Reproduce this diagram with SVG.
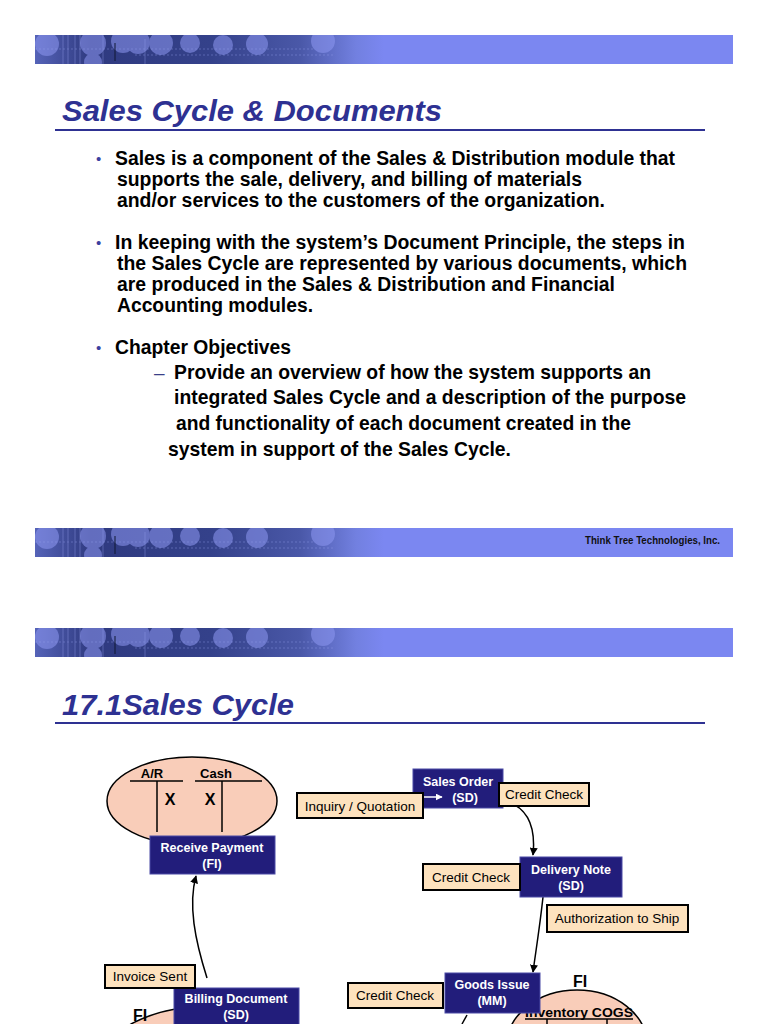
<svg xmlns="http://www.w3.org/2000/svg" width="768" height="1024" viewBox="0 0 768 1024">
<defs>
  <linearGradient id="bandGrad" x1="0" y1="0" x2="1" y2="0">
    <stop offset="0" stop-color="#5563B8"/>
    <stop offset="0.08" stop-color="#2F3A80"/>
    <stop offset="0.25" stop-color="#34418A"/>
    <stop offset="0.38" stop-color="#4A58A8"/>
    <stop offset="0.46" stop-color="#7280E0"/>
    <stop offset="0.5" stop-color="#7B87F1"/>
    <stop offset="1" stop-color="#7B87F1"/>
  </linearGradient>
  <clipPath id="bandClip">
    <rect x="0" y="0" width="698" height="29"/>
  </clipPath>
  <g id="band">
    <g clip-path="url(#bandClip)">
      <rect x="0" y="0" width="698" height="29" fill="url(#bandGrad)"/>
      <g fill="#8E98F2" opacity="0.55">
        <circle cx="12" cy="9" r="12"/>
        <circle cx="58" cy="8" r="13"/>
        <circle cx="88" cy="6" r="12"/>
        <circle cx="103" cy="7" r="12"/>
        <circle cx="126" cy="8" r="12"/>
        <circle cx="58" cy="27" r="9"/>
        <circle cx="155" cy="8" r="10"/>
        <circle cx="188" cy="10" r="10"/>
        <circle cx="222" cy="9" r="11"/>
        <circle cx="288" cy="6" r="12"/>
      </g>
      <g stroke="#9AA3F0" stroke-width="0.7" opacity="0.55">
        <line x1="28" y1="0" x2="28" y2="29"/>
        <line x1="33" y1="0" x2="33" y2="29"/>
        <line x1="40" y1="0" x2="40" y2="29"/>
        <line x1="45" y1="0" x2="45" y2="29"/>
        <line x1="68" y1="0" x2="68" y2="29"/>
        <line x1="110" y1="4" x2="110" y2="29"/>
        <line x1="0" y1="14" x2="280" y2="14" stroke-dasharray="2 2"/>
        <line x1="100" y1="20" x2="300" y2="20" stroke-dasharray="2 2"/>
      </g>
      <line x1="80" y1="8" x2="80" y2="26" stroke="#111833" stroke-width="1"/>
    </g>
  </g>
  <marker id="arrow" viewBox="0 0 10 10" refX="9" refY="5" markerWidth="8" markerHeight="8" markerUnits="userSpaceOnUse" orient="auto">
    <path d="M0,0 L10,5 L0,10 Z" fill="#000"/>
  </marker>
  <marker id="arrowW" viewBox="0 0 10 10" refX="9" refY="5" markerWidth="7" markerHeight="7" markerUnits="userSpaceOnUse" orient="auto">
    <path d="M0,0 L10,5 L0,10 Z" fill="#fff"/>
  </marker>
</defs>
<style>
  .title { font-family: "Liberation Sans", Arial, sans-serif; font-weight: bold; font-style: italic; font-size: 30px; fill: #2E3192; }
  .rule { stroke: #2E3192; stroke-width: 2; }
  .body { font-family: "Liberation Sans", Arial, sans-serif; font-weight: bold; font-size: 19.5px; fill: #000; }
  .sub { font-family: "Liberation Sans", Arial, sans-serif; font-weight: bold; font-size: 20.5px; fill: #000; }
  .bul { font-family: "Liberation Sans", Arial, sans-serif; font-size: 15px; fill: #3B40A0; }
  .dash { font-family: "Liberation Sans", Arial, sans-serif; font-size: 19px; fill: #3A3F88; }
  .foot { font-family: "Liberation Sans", Arial, sans-serif; font-weight: bold; font-size: 10px; fill: #111; }
  .doc rect { fill: #221D7B; stroke: #4B4BA6; stroke-width: 1; }
  .doc text { font-family: "Liberation Sans", Arial, sans-serif; font-weight: bold; font-size: 12.5px; fill: #fff; text-anchor: middle; }
  .lbl rect { fill: #FDE2BE; stroke: #000; stroke-width: 2; }
  .lbl text { font-family: "Liberation Sans", Arial, sans-serif; font-size: 13.5px; fill: #000; text-anchor: middle; }
  .acct ellipse { fill: #F9CDB9; stroke: #000; stroke-width: 1.5; }
  .acct line { stroke: #000; stroke-width: 1.5; }
  .acct text { font-family: "Liberation Sans", Arial, sans-serif; font-weight: bold; font-size: 13px; fill: #000; text-anchor: middle; }
  .acct text.x { font-size: 16px; }
  .acct text.fi { font-size: 16px; text-anchor: start; }
  .conn { fill: none; stroke: #000; stroke-width: 1.5; }
  .conn-w { fill: none; stroke: #fff; stroke-width: 1.5; }
</style>

<rect width="768" height="1024" fill="#fff"/>

<!-- Slide 1 -->
<use href="#band" x="35" y="35"/>
<text class="title" x="62" y="121" textLength="380" lengthAdjust="spacingAndGlyphs">Sales Cycle &amp; Documents</text>
<line class="rule" x1="55" y1="130" x2="705" y2="130"/>

<text class="bul" x="96" y="164">•</text>
<text class="body" x="115" y="165" textLength="560" lengthAdjust="spacingAndGlyphs">Sales is a component of the Sales &amp; Distribution module that</text>
<text class="body" x="117" y="186" textLength="465" lengthAdjust="spacingAndGlyphs">supports the sale, delivery, and billing of materials</text>
<text class="body" x="117" y="207" textLength="488" lengthAdjust="spacingAndGlyphs">and/or services to the customers of the organization.</text>

<text class="bul" x="96" y="248">•</text>
<text class="body" x="115" y="249" textLength="570" lengthAdjust="spacingAndGlyphs">In keeping with the system’s Document Principle, the steps in</text>
<text class="body" x="117" y="270" textLength="570" lengthAdjust="spacingAndGlyphs">the Sales Cycle are represented by various documents, which</text>
<text class="body" x="117" y="291" textLength="498" lengthAdjust="spacingAndGlyphs">are produced in the Sales &amp; Distribution and Financial</text>
<text class="body" x="117" y="312" textLength="196" lengthAdjust="spacingAndGlyphs">Accounting modules.</text>

<text class="bul" x="96" y="353">•</text>
<text class="body" x="115" y="354" textLength="176" lengthAdjust="spacingAndGlyphs">Chapter Objectives</text>
<text class="dash" x="154" y="379">–</text>
<text class="sub" x="174" y="379" textLength="477" lengthAdjust="spacingAndGlyphs">Provide an overview of how the system supports an</text>
<text class="sub" x="174" y="404" textLength="512" lengthAdjust="spacingAndGlyphs">integrated Sales Cycle and a description of the purpose</text>
<text class="sub" x="176" y="430" textLength="455" lengthAdjust="spacingAndGlyphs">and functionality of each document created in the</text>
<text class="sub" x="168" y="456" textLength="343" lengthAdjust="spacingAndGlyphs">system in support of the Sales Cycle.</text>

<use href="#band" x="35" y="528"/>
<text class="foot" x="720" y="544" text-anchor="end" textLength="135" lengthAdjust="spacingAndGlyphs">Think Tree Technologies, Inc.</text>

<!-- Slide 2 -->
<use href="#band" x="35" y="628"/>
<text class="title" x="62" y="715" textLength="232" lengthAdjust="spacingAndGlyphs">17.1Sales Cycle</text>
<line class="rule" x1="55" y1="723" x2="705" y2="723"/>

<!-- Account ellipses -->
<g id="acct-cash" class="acct">
  <ellipse cx="192" cy="801" rx="85" ry="44"/>
  <text x="152" y="778">A/R</text>
  <line x1="130" y1="781" x2="183" y2="781"/>
  <line x1="157" y1="781" x2="157" y2="832"/>
  <text class="x" x="170" y="805">X</text>
  <text x="216" y="778">Cash</text>
  <line x1="195" y1="781" x2="262" y2="781"/>
  <line x1="222" y1="781" x2="222" y2="832"/>
  <text class="x" x="210" y="805">X</text>
</g>

<g id="acct-billing" class="acct">
  <ellipse cx="212" cy="1062" rx="110" ry="56"/>
  <text class="fi" x="133" y="1021">FI</text>
</g>

<g id="acct-inventory" class="acct">
  <ellipse cx="577" cy="1045" rx="70" ry="55"/>
  <text class="fi" x="573" y="987">FI</text>
  <text x="579" y="1017" textLength="108" lengthAdjust="spacingAndGlyphs">Inventory  COGS</text>
  <line x1="525" y1="1019" x2="633" y2="1019"/>
  <line x1="547" y1="1019" x2="547" y2="1024"/>
  <line x1="607" y1="1019" x2="607" y2="1024"/>
</g>

<!-- Connectors -->
<g id="connectors">
  <path class="conn" d="M502,800 C528,806 536,826 533,855" marker-end="url(#arrow)"/>
  <path class="conn" d="M543,897 C540,925 536,950 533,972" marker-end="url(#arrow)"/>
  <path class="conn" d="M207,978 C195,940 188,905 196,876" marker-end="url(#arrow)"/>
  <path class="conn" d="M462,1024 L467,1015"/>
</g>

<!-- Document nodes -->
<g id="receive-payment" class="doc">
  <rect x="150" y="836" width="125" height="38"/>
  <text x="212" y="852">Receive Payment</text>
  <text x="212" y="868">(FI)</text>
</g>

<g id="sales-order" class="doc">
  <rect x="413" y="769" width="90" height="39"/>
  <text x="458" y="786">Sales Order</text>
  <text x="465" y="802">(SD)</text>
</g>
<path class="conn-w" d="M424,797 L442,797" marker-end="url(#arrowW)"/>

<g id="delivery-note" class="doc">
  <rect x="520" y="857" width="102" height="40"/>
  <text x="571" y="874">Delivery Note</text>
  <text x="571" y="890">(SD)</text>
</g>

<g id="goods-issue" class="doc">
  <rect x="445" y="973" width="95" height="40"/>
  <text x="492" y="989">Goods Issue</text>
  <text x="492" y="1005">(MM)</text>
</g>

<g id="billing-document" class="doc">
  <rect x="174" y="988" width="125" height="40"/>
  <text x="236" y="1003">Billing Document</text>
  <text x="236" y="1019">(SD)</text>
</g>

<!-- Label nodes -->
<g id="inquiry-quotation" class="lbl">
  <rect x="297" y="793" width="126" height="25"/>
  <text x="360" y="811">Inquiry / Quotation</text>
</g>

<g id="credit-check-1" class="lbl">
  <rect x="499" y="783" width="90" height="23"/>
  <text x="544" y="799">Credit Check</text>
</g>

<g id="credit-check-2" class="lbl">
  <rect x="423" y="864" width="97" height="26"/>
  <text x="471" y="882">Credit Check</text>
</g>

<g id="authorization" class="lbl">
  <rect x="547" y="905" width="141" height="27"/>
  <text x="617" y="923">Authorization to Ship</text>
</g>

<g id="invoice-sent" class="lbl">
  <rect x="105" y="965" width="90" height="23"/>
  <text x="150" y="981">Invoice Sent</text>
</g>

<g id="credit-check-3" class="lbl">
  <rect x="348" y="983" width="95" height="25"/>
  <text x="395" y="1000">Credit Check</text>
</g>
</svg>
